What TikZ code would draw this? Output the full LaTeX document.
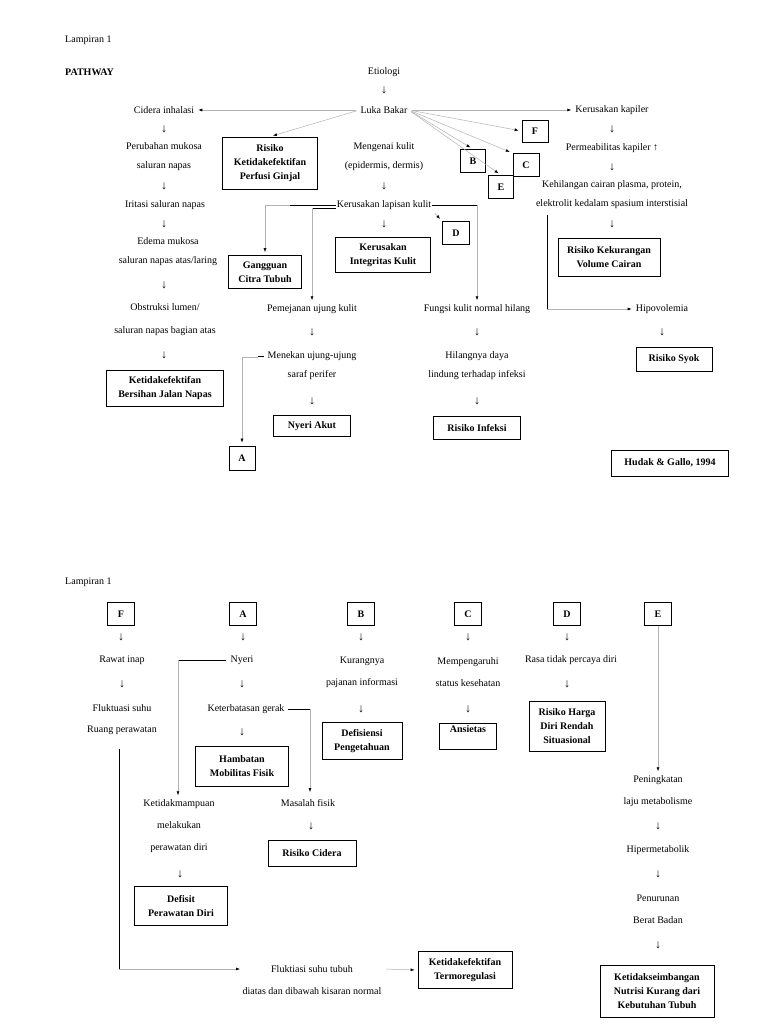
\documentclass[tikz,border=0pt]{standalone}
\usepackage{fontspec}
\setmainfont{Liberation Serif}
\usetikzlibrary{arrows.meta}
\newcommand{\dar}{{\fontsize{12}{12}\selectfont ↓}}
\begin{document}
\begin{tikzpicture}[x=1pt,y=-1pt,
 every node/.style={font=\fontsize{10}{13}\selectfont,inner sep=1pt},
 t/.style={align=center},
 bx/.style={draw=black,line width=0.8pt,align=center,font=\fontsize{10}{14}\selectfont\bfseries,inner sep=0pt},
 ar/.style={draw=gray!60,line width=0.5pt,shorten >=3pt,shorten <=3pt,-{Latex[length=4pt,width=3pt,black]}},
 bl/.style={draw=black,line width=0.6pt}]
\useasboundingbox (0,0) rectangle (768,1024);
% ---------- top ----------
\node[anchor=west] (l1) at (64,40) {Lampiran 1};
\node[anchor=west,font=\fontsize{10}{13}\selectfont\bfseries] (pw) at (64,72) {PATHWAY};
\node (eti) at (384,72) {Etiologi};
\node (d0) at (384,90) {\dar};
\node (lb) at (384,110) {Luka Bakar};
\node (ci) at (164,110) {Cidera inhalasi};
\node (d1) at (164,129) {\dar};
\node[t] (pm) at (164,157) {Perubahan mukosa\\[6pt]saluran napas};
\node (d2) at (164,186) {\dar};
\node (ir) at (165,205) {Iritasi saluran napas};
\node (d3) at (164,224) {\dar};
\node[t] (ed) at (168,252) {Edema mukosa\\[6pt]saluran napas atas/laring};
\node (d4) at (164,285) {\dar};
\node[t] (ob) at (165,320) {Obstruksi lumen/\\[10pt]saluran napas bagian atas};
\node (d5) at (164,355) {\dar};
\node[bx,minimum width=117,minimum height=36] (kb) at (165,388) {Ketidakefektifan\\Bersihan Jalan Napas};
\node[bx,minimum width=95,minimum height=52] (rk) at (270,163) {Risiko\\Ketidakefektifan\\Perfusi Ginjal};
\node[t] (mk) at (384,157) {Mengenai kulit\\[6pt](epidermis, dermis)};
\node (d6) at (384,186) {\dar};
\node (kl) at (384,205) {Kerusakan lapisan kulit};
\node (d7) at (384,224) {\dar};
\node[bx,minimum width=95,minimum height=35] (ki) at (383,255) {Kerusakan\\Integritas Kulit};
\node[bx,minimum width=73,minimum height=33] (gc) at (265,272) {Gangguan\\Citra Tubuh};
\node[bx,minimum width=27,minimum height=23] (bD) at (456,233) {D};
\node (pu) at (312,309) {Pemejanan ujung kulit};
\node (d8) at (312,332) {\dar};
\node[t] (mu) at (312,366) {Menekan ujung-ujung\\[6pt]saraf perifer};
\node (d9) at (312,401) {\dar};
\node[bx,minimum width=77,minimum height=21] (na) at (312,426) {Nyeri Akut};
\node[bx,minimum width=26,minimum height=24] (bA) at (242,458) {A};
\node (fk) at (477,309) {Fungsi kulit normal hilang};
\node (d10) at (477,332) {\dar};
\node[t] (hd) at (477,366) {Hilangnya daya\\[6pt]lindung terhadap infeksi};
\node (d11) at (477,401) {\dar};
\node[bx,minimum width=87,minimum height=23] (ri) at (477,428) {Risiko Infeksi};
\node[bx,minimum width=26,minimum height=22] (bF) at (535,131) {F};
\node[bx,minimum width=25,minimum height=23] (bB) at (473,161) {B};
\node[bx,minimum width=26,minimum height=23] (bC) at (526,165) {C};
\node[bx,minimum width=25,minimum height=23] (bE) at (501,187) {E};
\node (kk) at (612,110) {Kerusakan kapiler};
\node (d12) at (612,129) {\dar};
\node (pk) at (612,148) {Permeabilitas kapiler ↑};
\node (d13) at (612,167) {\dar};
\node[t] (kc) at (612,195) {Kehilangan cairan plasma, protein,\\[6pt]elektrolit kedalam spasium interstisial};
\node (d14) at (612,224) {\dar};
\node[bx,minimum width=102,minimum height=38] (rv) at (609,257) {Risiko Kekurangan\\Volume Cairan};
\node (hp) at (662,309) {Hipovolemia};
\node (d15) at (662,332) {\dar};
\node[bx,minimum width=76,minimum height=24] (rs) at (674,359) {Risiko Syok};
\node[bx,minimum width=117,minimum height=26] (hg) at (670,463) {Hudak \& Gallo, 1994};
% connectors top
\draw[ar] (lb.west) -- (ci.east);
\draw[ar] (lb.west) -- (rk.north);
\draw[ar] (lb.east) -- (kk.west);
\draw[ar] (lb.east) -- (bF.west);
\draw[ar] (lb.east) -- (bC.north west);
\draw[ar] (lb.east) -- (bB.north);
\draw[ar] (lb.east) -- (bE.north);
\draw[ar] (kl.south east) -- (bD.north west);
\draw[bl] (kl.west) -- (290,205);
\draw[ar,shorten <=0pt] (290,205) -| (gc.north);
\draw[bl] (kl.west) ++(0,3) -- (312,208);
\draw[ar,shorten <=0pt] (312,208) -- (pu.north);
\draw[bl] (kl.east) -- (477,205);
\draw[ar,shorten <=0pt] (477,205) -- (fk.north);
\draw[bl] (mu.north west) ++(-3,6) coordinate (mA) -- ++(-6,0) coordinate (mB);
\draw[ar,shorten <=0pt] (mB) -| (bA.north);
\draw[bl] (547,215) -- (547,309);
\draw[ar,shorten <=0pt] (547,309) -- (hp.west);
% ---------- bottom ----------
\node[anchor=west] (l2) at (64,582) {Lampiran 1};
\foreach \n/\x in {F/121,A/243,B/361,C/468,D/567,E/658}{
 \node[bx,minimum width=27,minimum height=23] (b\n2) at (\x,614) {\n};}
\foreach \x in {121,243,361,468,567}{ \node at (\x,637) {\dar}; }
\node (rw) at (122,660) {Rawat inap};
\node at (122,684) {\dar};
\node[t] (fs) at (122,720) {Fluktuasi suhu\\[8pt]Ruang perawatan};
\node (ny) at (242,660) {Nyeri};
\node at (242,684) {\dar};
\node (kg) at (246,709) {Keterbatasan gerak};
\node at (242,732) {\dar};
\node[bx,minimum width=93,minimum height=40] (hm) at (242,766) {Hambatan\\Mobilitas Fisik};
\node[t] (ktm) at (179,826) {Ketidakmampuan\\[9pt]melakukan\\[9pt]perawatan diri};
\node at (180,874) {\dar};
\node[bx,minimum width=93,minimum height=39] (dp) at (181,906) {Defisit\\Perawatan Diri};
\node (mf) at (308,803) {Masalah fisik};
\node at (311,826) {\dar};
\node[bx,minimum width=88,minimum height=26] (rc) at (312,853) {Risiko Cidera};
\node[t] (kr) at (362,672) {Kurangnya\\[9pt]pajanan informasi};
\node at (361,709) {\dar};
\node[bx,minimum width=80,minimum height=37] (dpg) at (362,741) {Defisiensi\\Pengetahuan};
\node[t] (mp) at (468,672) {Mempengaruhi\\[9pt]status kesehatan};
\node at (468,709) {\dar};
\node[bx,minimum width=57,minimum height=26,anchor=north,text depth=14pt] (an) at (468,723) {Ansietas};
\node (rp) at (571,660) {Rasa tidak percaya diri};
\node at (567,684) {\dar};
\node[bx,minimum width=76,minimum height=50] (rh) at (567,726) {Risiko Harga\\Diri Rendah\\Situasional};
\node[t] (pn) at (658,791) {Peningkatan\\[9pt]laju metabolisme};
\node at (658,826) {\dar};
\node (hm2) at (658,850) {Hipermetabolik};
\node at (658,874) {\dar};
\node[t] (pb) at (658,909) {Penurunan\\[9pt]Berat Badan};
\node at (658,945) {\dar};
\node[bx,minimum width=114,minimum height=52] (kn) at (657,991) {Ketidakseimbangan\\Nutrisi Kurang dari\\Kebutuhan Tubuh};
\node[t] (ft) at (312,980) {Fluktiasi suhu tubuh\\[9pt]diatas dan dibawah kisaran normal};
\node[bx,minimum width=94,minimum height=37] (kt) at (465,970) {Ketidakefektifan\\Termoregulasi};
% connectors bottom
\draw[bl] (ny.west) ++(-3,0) -- (178,660);
\draw[ar,shorten <=0pt] (178,660) -- (ktm.north -| 178,0);
\draw[bl] (kg.east) ++(2,0) -- (310,709);
\draw[ar,shorten <=0pt] (310,709) -- (310,795);
\draw[bl] (119,749) -- (119,969);
\draw[ar,shorten <=0pt] (119,969) -- (243,969);
\draw[ar] (383,969) -- (kt.west);
\draw[ar,shorten <=0pt] (bE2.south) -- (pn.north);
\end{tikzpicture}
\end{document}
